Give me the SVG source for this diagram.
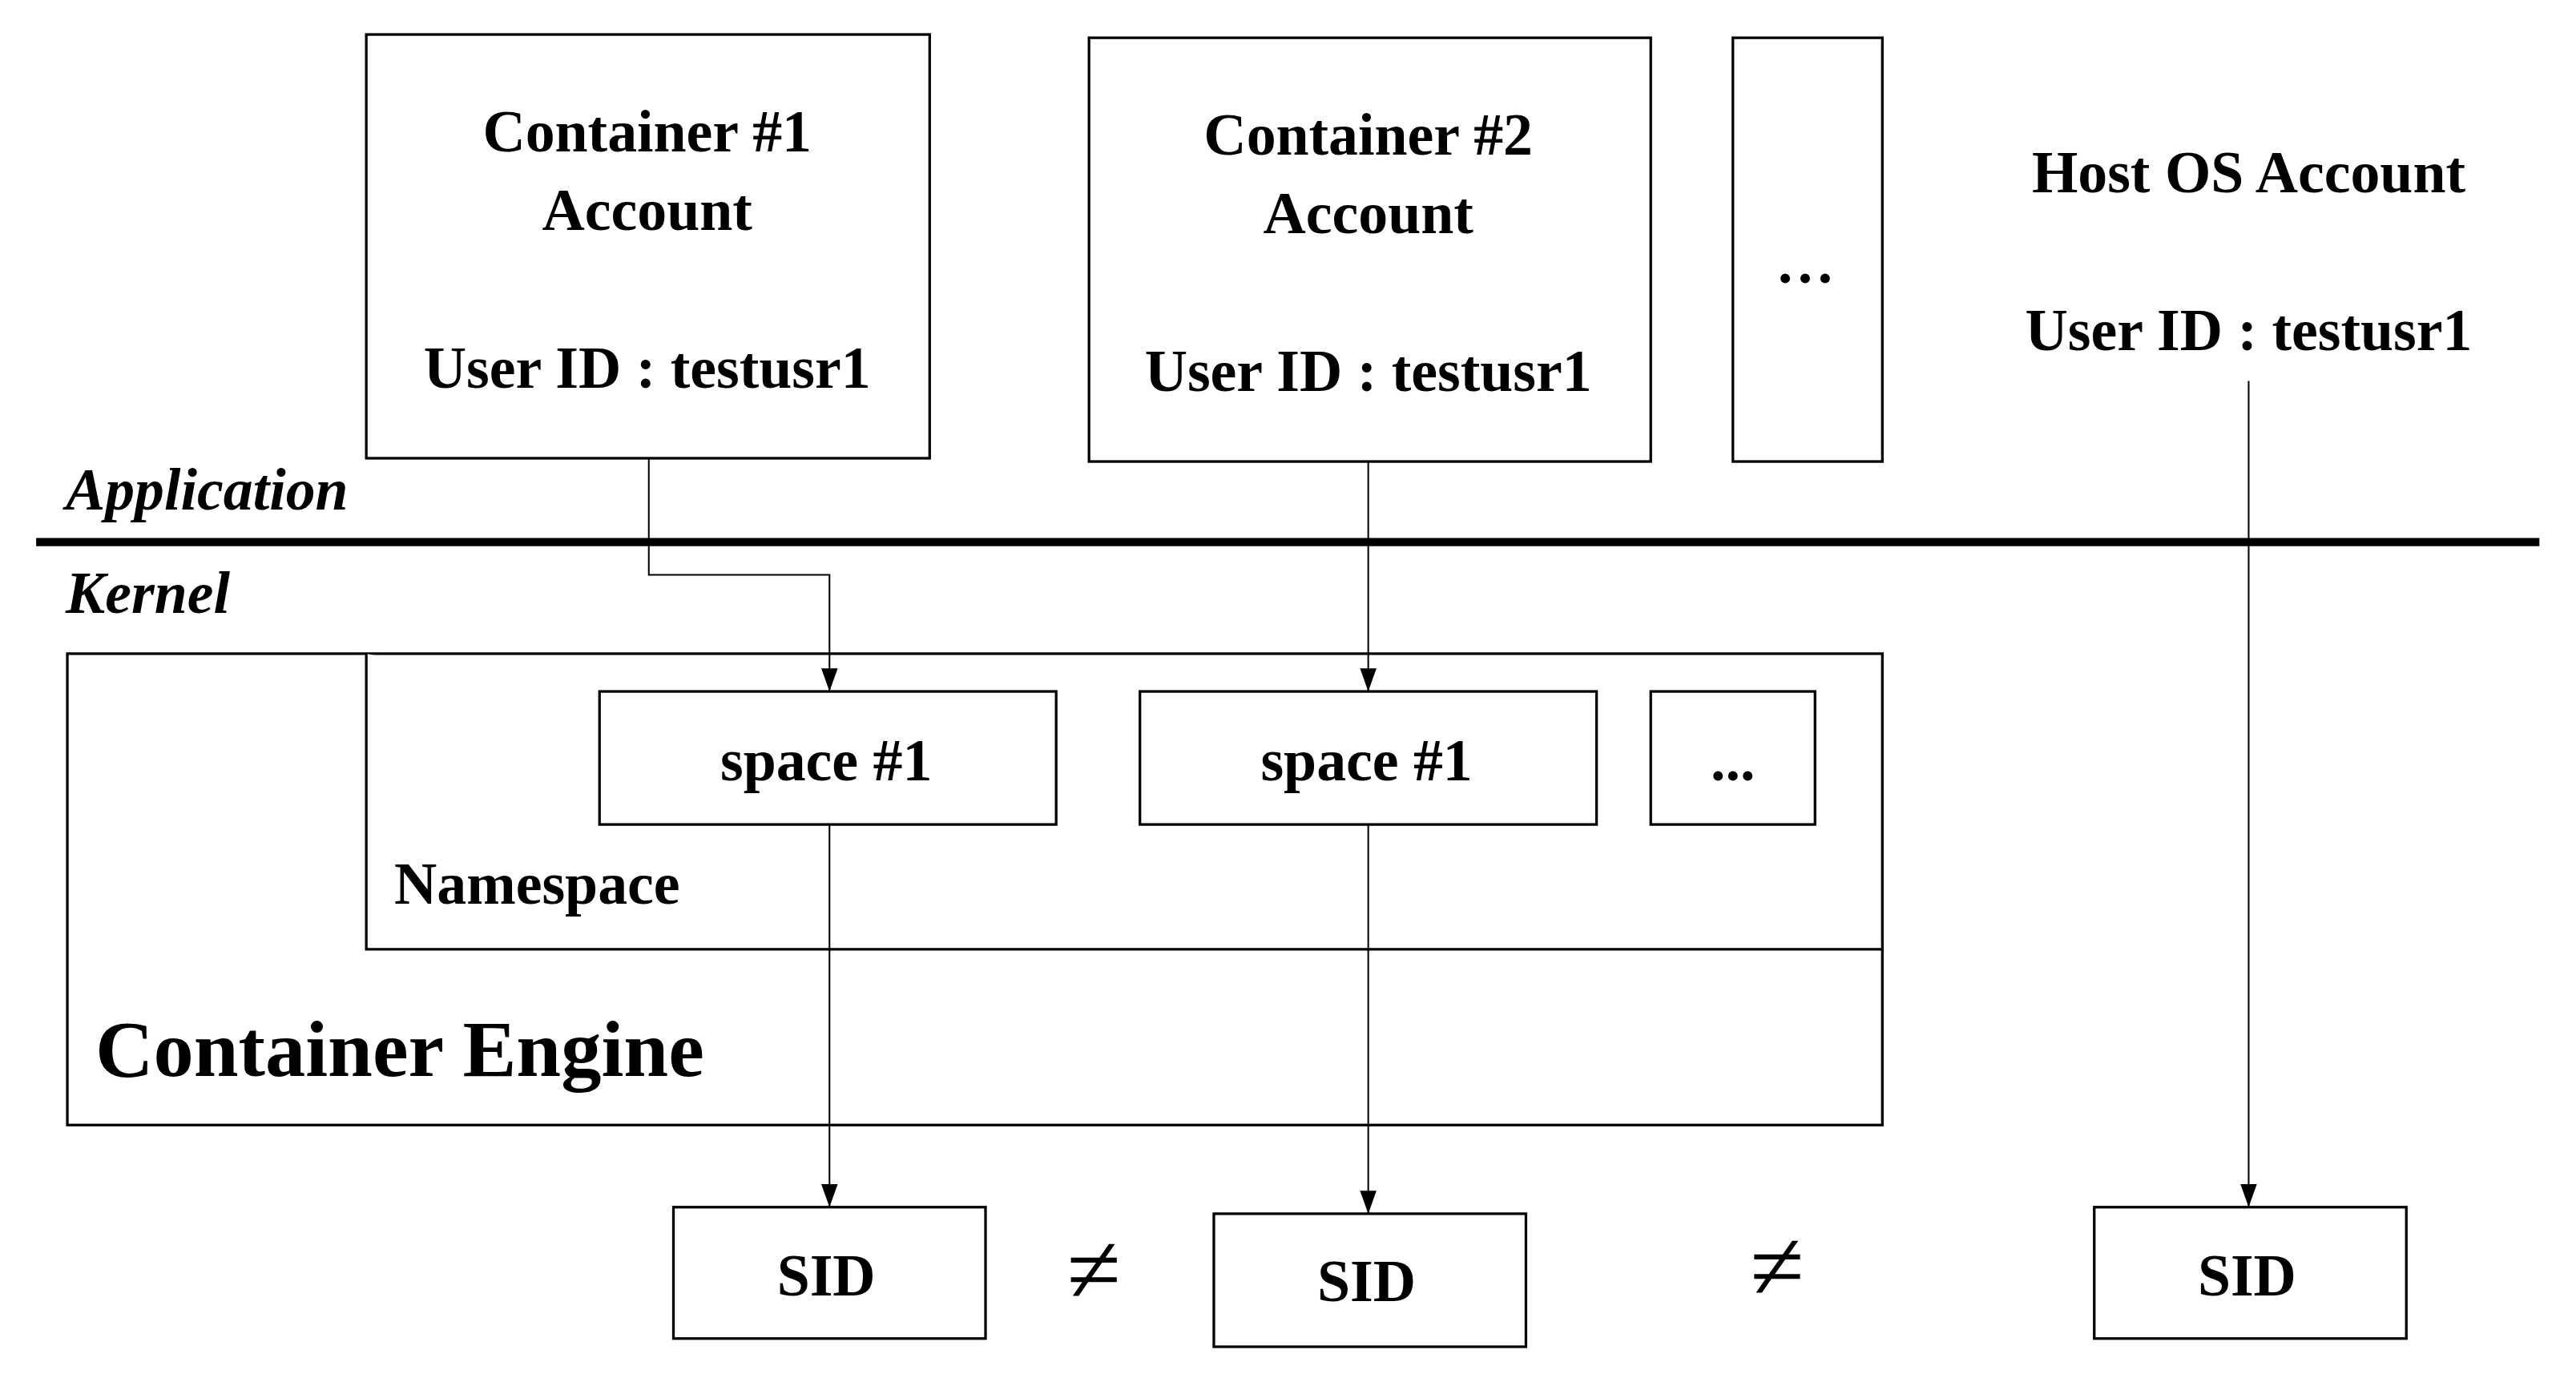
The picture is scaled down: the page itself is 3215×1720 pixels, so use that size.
<svg xmlns="http://www.w3.org/2000/svg" width="3215" height="1720" viewBox="0 0 3215 1720">
<defs>
<style>
.b{fill:#fff;stroke:#000;stroke-width:1.6}
.t{font-family:"Liberation Serif",serif;font-weight:bold;font-size:36px;fill:#000;text-anchor:middle}
.i{font-family:"Liberation Serif",serif;font-weight:bold;font-style:italic;font-size:36px;fill:#000}
.c{fill:none;stroke:#000;stroke-width:1}
</style>
<marker id="a" markerWidth="14" markerHeight="10" refX="14" refY="5" orient="auto" markerUnits="userSpaceOnUse" viewBox="0 0 14 10"><path d="M0,0 L14,5 L0,10 Z" fill="#000"/></marker>
</defs>
<rect width="3215" height="1720" fill="#fff"/>
<g transform="scale(2.05)">
<g id="engine"><rect class="b" x="41" y="398" width="1105" height="287"/><text x="58" y="655" style="font-family:'Liberation Serif',serif;font-weight:bold;font-size:49px">Container Engine</text></g>
<g id="namespace"><path class="b" d="M223,398 V578 H1146" fill="none"/><text x="240" y="550" style="font-family:'Liberation Serif',serif;font-weight:bold;font-size:36px">Namespace</text></g>
<g id="c1"><rect class="b" x="223" y="21" width="343" height="258"/><text class="t" x="394" y="92">Container #1</text><text class="t" x="394" y="140">Account</text><text class="t" x="394" y="236">User ID : testusr1</text></g>
<g id="c2"><rect class="b" x="663" y="23" width="342" height="258"/><text class="t" x="833" y="94">Container #2</text><text class="t" x="833" y="142">Account</text><text class="t" x="833" y="238">User ID : testusr1</text></g>
<g id="cdots"><rect class="b" x="1055" y="23" width="91" height="258"/><text class="t" x="1099" y="172">…</text></g>
<g id="host"><text class="t" x="1369" y="117">Host OS Account</text><text class="t" x="1369" y="213">User ID : testusr1</text></g>
<g id="labels"><text class="i" x="40" y="310">Application</text><text class="i" x="40" y="373">Kernel</text><line x1="22" y1="330" x2="1546" y2="330" stroke="#000" stroke-width="5"/></g>
<g id="s1"><rect class="b" x="365" y="421" width="278" height="81"/><text class="t" x="503" y="475">space #1</text></g>
<g id="s2"><rect class="b" x="694" y="421" width="278" height="81"/><text class="t" x="832" y="475">space #1</text></g>
<g id="sdots"><rect class="b" x="1005" y="421" width="100" height="81"/><text class="t" x="1055" y="475">...</text></g>
<g id="sid1"><rect class="b" x="410" y="735" width="190" height="80"/><text class="t" x="503" y="789">SID</text></g>
<g id="sid2"><rect class="b" x="739" y="739" width="190" height="81"/><text class="t" x="832" y="792">SID</text></g>
<g id="sid3"><rect class="b" x="1275" y="735" width="190" height="80"/><text class="t" x="1368" y="789">SID</text></g>
<g id="neq"><text class="t" x="666" y="793" style="font-weight:normal;font-size:60px">≠</text><text class="t" x="1082" y="791" style="font-weight:normal;font-size:60px">≠</text></g>
<g id="connectors">
<path class="c" d="M395,279 V350 H505 V421" marker-end="url(#a)"/>
<path class="c" d="M833,281 V421" marker-end="url(#a)"/>
<path class="c" d="M505,502 V735" marker-end="url(#a)"/>
<path class="c" d="M833,502 V739" marker-end="url(#a)"/>
<path class="c" d="M1369,232 V735" marker-end="url(#a)"/>
</g>
</g>
</svg>
